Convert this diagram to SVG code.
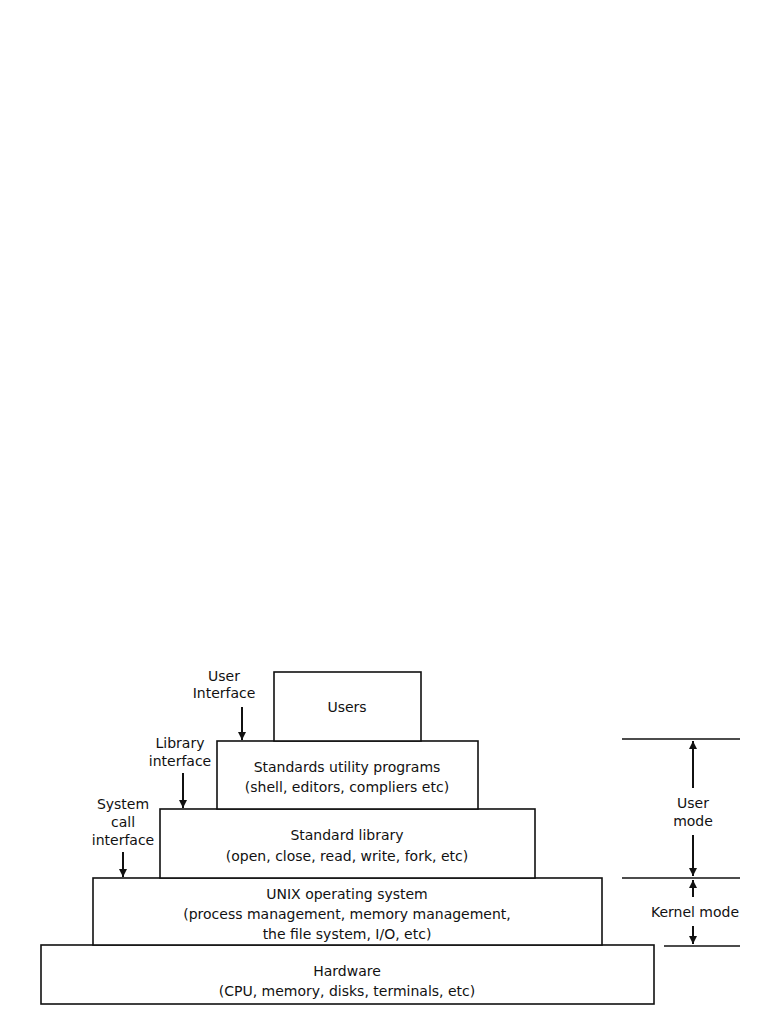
<svg xmlns="http://www.w3.org/2000/svg" width="768" height="1024" viewBox="0 0 768 1024">
<style>
.b{fill:#fff;stroke:#111;stroke-width:1.6}
.t{font-family:"DejaVu Sans",sans-serif;font-size:14px;fill:#111;text-anchor:middle}
.l{stroke:#111;stroke-width:1.3}
.a{stroke:#111;stroke-width:2;marker-end:url(#h)}
</style>
<defs><marker id="h" viewBox="0 0 10 10" refX="10" refY="5" markerWidth="4" markerHeight="4" orient="auto"><path d="M0,0L10,5L0,10z" fill="#111"/></marker></defs>
<rect width="768" height="1024" fill="#fff"/>
<g id="hardware"><rect class="b" x="41" y="945" width="613" height="59"/><text class="t" x="347" y="976">Hardware</text><text class="t" x="347" y="996">(CPU, memory, disks, terminals, etc)</text></g>
<g id="unix"><rect class="b" x="93" y="878" width="509" height="67"/><text class="t" x="347" y="899">UNIX operating system</text><text class="t" x="347" y="919">(process management, memory management,</text><text class="t" x="347" y="939">the file system, I/O, etc)</text></g>
<g id="stdlib"><rect class="b" x="160" y="809" width="375" height="69"/><text class="t" x="347" y="840">Standard library</text><text class="t" x="347" y="861">(open, close, read, write, fork, etc)</text></g>
<g id="utility"><rect class="b" x="217" y="741" width="261" height="68"/><text class="t" x="347" y="772">Standards utility programs</text><text class="t" x="347" y="792">(shell, editors, compliers etc)</text></g>
<g id="users"><rect class="b" x="274" y="672" width="147" height="69"/><text class="t" x="347" y="712">Users</text></g>
<g id="labels">
<text class="t" x="224" y="681">User</text><text class="t" x="224" y="698">Interface</text>
<text class="t" x="180" y="748">Library</text><text class="t" x="180" y="766">interface</text>
<text class="t" x="123" y="809">System</text><text class="t" x="123" y="827">call</text><text class="t" x="123" y="845">interface</text>
<text class="t" x="693" y="808">User</text><text class="t" x="693" y="826">mode</text>
<text class="t" x="695" y="917">Kernel mode</text>
</g>
<g id="connectors">
<line class="a" x1="242" y1="707" x2="242" y2="740"/>
<line class="a" x1="183" y1="773" x2="183" y2="808"/>
<line class="a" x1="123" y1="852" x2="123" y2="877"/>
<line class="l" x1="622" y1="739" x2="740" y2="739"/>
<line class="l" x1="622" y1="878" x2="740" y2="878"/>
<line class="l" x1="664" y1="946" x2="740" y2="946"/>
<line class="a" x1="693" y1="788" x2="693" y2="741"/>
<line class="a" x1="693" y1="835" x2="693" y2="876"/>
<line class="a" x1="693" y1="897" x2="693" y2="880"/>
<line class="a" x1="693" y1="926" x2="693" y2="944"/>
</g>
</svg>
